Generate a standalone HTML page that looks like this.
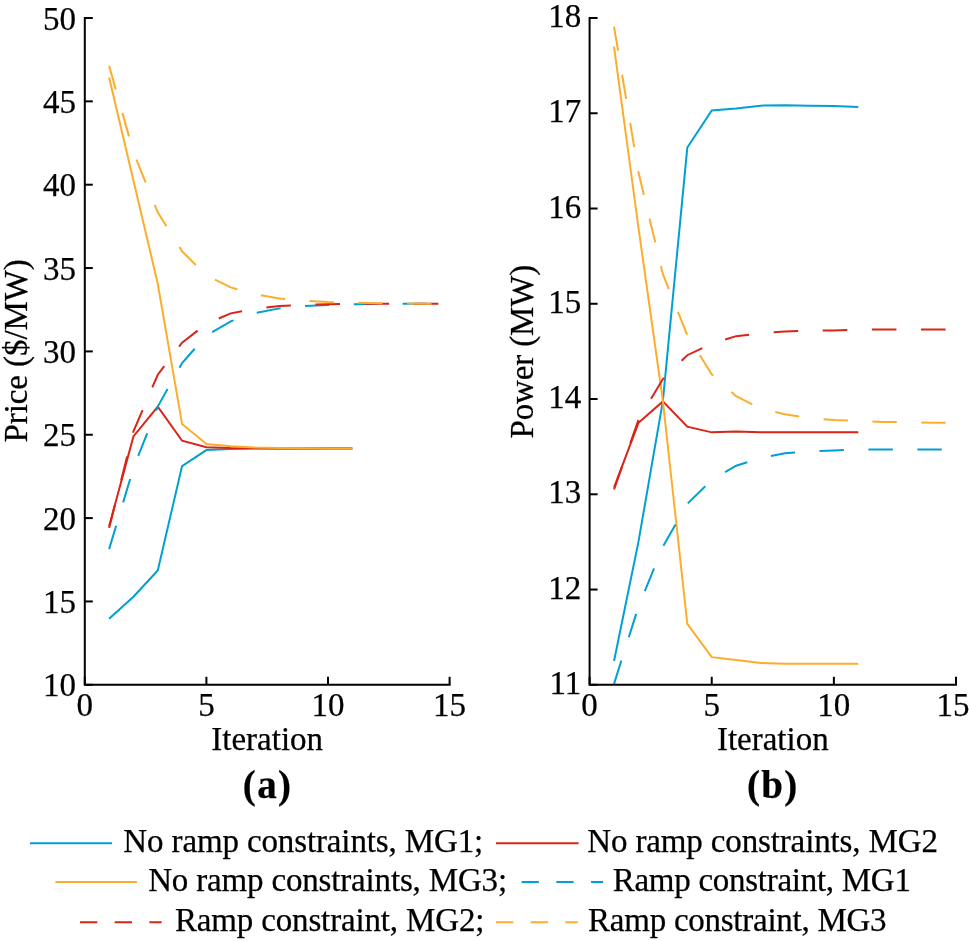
<!DOCTYPE html>
<html><head><meta charset="utf-8"><title>Convergence of price and power</title>
<style>
html,body{margin:0;padding:0;background:#fff;}
svg{display:block;}
text{font-family:"Liberation Serif","Times New Roman",serif;fill:#000;stroke:#000;stroke-width:0.25px;}
.tk{font-size:33px;}
.lb{font-size:33px;}
.sub{font-size:39px;font-weight:bold;}
.lg{font-size:33px;}
</style></head><body>
<svg width="969" height="941" viewBox="0 0 969 941">
<rect width="969" height="941" fill="#fff"/>
<polyline points="109.12,618.79 133.44,596.78 157.76,570.44 182.08,466.09 206.40,450.09 230.72,449.09 255.04,448.59 279.36,448.42 303.68,448.42 328.00,448.42 352.32,448.42" fill="none" stroke="#00a0d2" stroke-width="2.0"/>
<polyline points="109.12,526.27 133.44,436.42 157.76,406.74 182.08,440.75 206.40,447.25 230.72,448.09 255.04,448.25 279.36,448.42 303.68,448.42 328.00,448.42 352.32,448.42" fill="none" stroke="#d92516" stroke-width="2.0"/>
<polyline points="109.12,77.51 133.44,180.53 157.76,283.72 182.08,424.08 206.40,443.92 230.72,446.25 255.04,447.59 279.36,448.09 303.68,448.25 328.00,448.42 352.32,448.42" fill="none" stroke="#fcad2c" stroke-width="2.0"/>
<polyline points="109.12,549.11 133.44,468.09 157.76,406.58 182.08,363.07 206.40,335.56 230.72,321.39 255.04,313.06 279.36,308.39 303.68,306.06 328.00,304.89 352.32,304.22 376.64,303.89 400.96,303.72 425.28,303.72 449.60,303.72" fill="none" stroke="#00a0d2" stroke-width="2.0" stroke-dasharray="24.405 24.405"/>
<polyline points="109.12,528.10 133.44,431.42 157.76,374.74 182.08,342.73 206.40,323.73 230.72,313.39 255.04,308.72 279.36,306.06 303.68,304.89 328.00,304.22 352.32,303.89 376.64,303.72 400.96,303.72 425.28,303.72 449.60,303.72" fill="none" stroke="#d92516" stroke-width="2.0" stroke-dasharray="24.585 24.585"/>
<polyline points="109.12,65.84 133.44,152.19 157.76,212.37 182.08,251.38 206.40,275.38 230.72,287.39 255.04,294.39 279.36,298.39 303.68,300.72 328.00,302.06 352.32,302.72 376.64,303.22 400.96,303.56 425.28,303.72 449.60,303.72" fill="none" stroke="#fcad2c" stroke-width="2.0" stroke-dasharray="24.430 24.430"/>
<polyline points="614.03,660.99 638.45,541.91 662.88,400.93 687.31,147.55 711.73,110.40 736.16,108.49 760.59,105.64 785.01,105.16 809.44,105.64 833.87,106.11 858.29,107.07" fill="none" stroke="#00a0d2" stroke-width="2.0"/>
<polyline points="614.03,487.62 638.45,422.84 662.88,401.41 687.31,426.65 711.73,432.37 736.16,431.42 760.59,432.37 785.01,432.37 809.44,432.37 833.87,432.37 858.29,432.37" fill="none" stroke="#d92516" stroke-width="2.0"/>
<polyline points="614.03,46.58 638.45,227.57 662.88,400.93 687.31,623.84 711.73,657.18 736.16,660.03 760.59,662.89 785.01,663.84 809.44,663.84 833.87,663.84 858.29,663.84" fill="none" stroke="#fcad2c" stroke-width="2.0"/>
<polyline points="614.03,683.85 638.45,606.69 662.88,546.68 687.31,503.81 711.73,480.00 736.16,465.71 760.59,458.09 785.01,453.33 809.44,451.42 833.87,450.47 858.29,449.51 882.72,449.51 907.15,449.51 931.57,449.51 956.00,449.51" fill="none" stroke="#00a0d2" stroke-width="2.0" stroke-dasharray="24.465 24.465"/>
<polyline points="614.03,489.52 638.45,419.99 662.88,379.02 687.31,355.21 711.73,343.78 736.16,336.16 760.59,333.30 785.01,331.40 809.44,330.44 833.87,330.44 858.29,329.49 882.72,329.49 907.15,329.49 931.57,329.49 956.00,329.49" fill="none" stroke="#d92516" stroke-width="2.0" stroke-dasharray="24.575 24.575"/>
<polyline points="614.03,26.57 638.45,172.32 662.88,274.24 687.31,335.21 711.73,374.26 736.16,396.17 760.59,408.55 785.01,414.27 809.44,418.08 833.87,419.99 858.29,420.94 882.72,421.89 907.15,421.89 931.57,422.84 956.00,422.84" fill="none" stroke="#fcad2c" stroke-width="2.0" stroke-dasharray="24.425 24.425"/>
<path d="M84.80,17.00 V684.80 H450.60" fill="none" stroke="#000" stroke-width="2"/>
<path d="M84.80,684.80 h8" stroke="#000" stroke-width="2"/>
<text x="76.10" y="696.40" text-anchor="end" class="tk">10</text>
<path d="M84.80,601.45 h8" stroke="#000" stroke-width="2"/>
<text x="76.10" y="613.05" text-anchor="end" class="tk">15</text>
<path d="M84.80,518.10 h8" stroke="#000" stroke-width="2"/>
<text x="76.10" y="529.70" text-anchor="end" class="tk">20</text>
<path d="M84.80,434.75 h8" stroke="#000" stroke-width="2"/>
<text x="76.10" y="446.35" text-anchor="end" class="tk">25</text>
<path d="M84.80,351.40 h8" stroke="#000" stroke-width="2"/>
<text x="76.10" y="363.00" text-anchor="end" class="tk">30</text>
<path d="M84.80,268.05 h8" stroke="#000" stroke-width="2"/>
<text x="76.10" y="279.65" text-anchor="end" class="tk">35</text>
<path d="M84.80,184.70 h8" stroke="#000" stroke-width="2"/>
<text x="76.10" y="196.30" text-anchor="end" class="tk">40</text>
<path d="M84.80,101.35 h8" stroke="#000" stroke-width="2"/>
<text x="76.10" y="112.95" text-anchor="end" class="tk">45</text>
<path d="M84.80,18.00 h8" stroke="#000" stroke-width="2"/>
<text x="76.10" y="29.60" text-anchor="end" class="tk">50</text>
<path d="M84.80,684.80 v-8" stroke="#000" stroke-width="2"/>
<text x="84.80" y="716.10" text-anchor="middle" class="tk">0</text>
<path d="M206.40,684.80 v-8" stroke="#000" stroke-width="2"/>
<text x="206.40" y="716.10" text-anchor="middle" class="tk">5</text>
<path d="M328.00,684.80 v-8" stroke="#000" stroke-width="2"/>
<text x="328.00" y="716.10" text-anchor="middle" class="tk">10</text>
<path d="M449.60,684.80 v-8" stroke="#000" stroke-width="2"/>
<text x="449.60" y="716.10" text-anchor="middle" class="tk">15</text>
<path d="M589.60,17.00 V684.80 H957.00" fill="none" stroke="#000" stroke-width="2"/>
<path d="M589.60,684.80 h8" stroke="#000" stroke-width="2"/>
<text x="581.30" y="693.90" text-anchor="end" class="tk">11</text>
<path d="M589.60,589.54 h8" stroke="#000" stroke-width="2"/>
<text x="581.30" y="598.64" text-anchor="end" class="tk">12</text>
<path d="M589.60,494.29 h8" stroke="#000" stroke-width="2"/>
<text x="581.30" y="503.39" text-anchor="end" class="tk">13</text>
<path d="M589.60,399.03 h8" stroke="#000" stroke-width="2"/>
<text x="581.30" y="408.13" text-anchor="end" class="tk">14</text>
<path d="M589.60,303.77 h8" stroke="#000" stroke-width="2"/>
<text x="581.30" y="312.87" text-anchor="end" class="tk">15</text>
<path d="M589.60,208.51 h8" stroke="#000" stroke-width="2"/>
<text x="581.30" y="217.61" text-anchor="end" class="tk">16</text>
<path d="M589.60,113.26 h8" stroke="#000" stroke-width="2"/>
<text x="581.30" y="122.36" text-anchor="end" class="tk">17</text>
<path d="M589.60,18.00 h8" stroke="#000" stroke-width="2"/>
<text x="581.30" y="27.10" text-anchor="end" class="tk">18</text>
<path d="M589.60,684.80 v-8" stroke="#000" stroke-width="2"/>
<text x="589.60" y="716.10" text-anchor="middle" class="tk">0</text>
<path d="M711.73,684.80 v-8" stroke="#000" stroke-width="2"/>
<text x="711.73" y="716.10" text-anchor="middle" class="tk">5</text>
<path d="M833.87,684.80 v-8" stroke="#000" stroke-width="2"/>
<text x="833.87" y="716.10" text-anchor="middle" class="tk">10</text>
<path d="M956.00,684.80 v-8" stroke="#000" stroke-width="2"/>
<text x="953.00" y="716.10" text-anchor="middle" class="tk">15</text>
<text x="267.20" y="750" text-anchor="middle" class="lb">Iteration</text>
<text x="772.80" y="750" text-anchor="middle" class="lb">Iteration</text>
<text transform="translate(26.6,350.85) rotate(-90)" text-anchor="middle" class="lb" textLength="183.3" lengthAdjust="spacing">Price ($/MW)</text>
<text transform="translate(533.1,351.65) rotate(-90)" text-anchor="middle" class="lb" textLength="173.7" lengthAdjust="spacing">Power (MW)</text>
<text x="266.90" y="798" text-anchor="middle" class="sub" textLength="48.1" lengthAdjust="spacing">(a)</text>
<text x="772.10" y="798" text-anchor="middle" class="sub" textLength="50.2" lengthAdjust="spacing">(b)</text>
<path d="M30,843.2 H112" stroke="#00a0d2" stroke-width="2"/>
<text x="123.3" y="852" class="lg" textLength="359.95" lengthAdjust="spacing">No ramp constraints, MG1;</text>
<path d="M496,843.2 H578.6" stroke="#d92516" stroke-width="2"/>
<text x="587.2" y="852" class="lg" textLength="350.7" lengthAdjust="spacing">No ramp constraints, MG2</text>
<path d="M55.4,881.9 H137" stroke="#fcad2c" stroke-width="2"/>
<text x="148.2" y="891" class="lg" textLength="358.85" lengthAdjust="spacing">No ramp constraints, MG3;</text>
<path d="M521.6,881.9 H603.1" stroke="#00a0d2" stroke-width="2" stroke-dasharray="17.3 17.4"/>
<text x="612.7" y="891" class="lg" textLength="298.2" lengthAdjust="spacing">Ramp constraint, MG1</text>
<path d="M80,922.3 H161.7" stroke="#d92516" stroke-width="2" stroke-dasharray="17.3 17.4"/>
<text x="174.9" y="931" class="lg" textLength="309.56" lengthAdjust="spacing">Ramp constraint, MG2;</text>
<path d="M496,922.3 H577.8" stroke="#fcad2c" stroke-width="2" stroke-dasharray="17.3 17.4"/>
<text x="588.1" y="931" class="lg" textLength="298.5" lengthAdjust="spacing">Ramp constraint, MG3</text>
</svg>
</body></html>
